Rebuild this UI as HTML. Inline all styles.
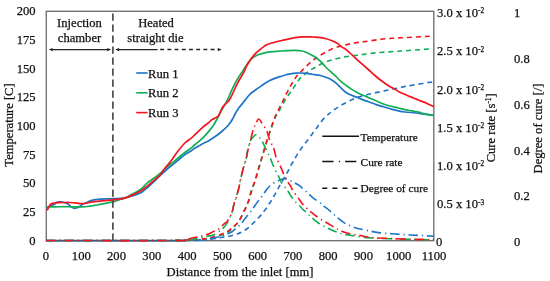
<!DOCTYPE html>
<html><head><meta charset="utf-8"><style>
html,body{margin:0;padding:0;background:#fff;}
svg{display:block;}
.t{font-family:"Liberation Serif","Times New Roman",serif;font-size:12.6px;fill:#111;stroke:#111;stroke-width:0.25px;}
</style></head><body>
<svg width="550" height="281" viewBox="0 0 550 281">
<rect width="550" height="281" fill="#fff"/>
<rect x="46.3" y="11.3" width="387.5" height="229.4" fill="none" stroke="#737373" stroke-width="1.4"/>
<line x1="46" y1="240.6" x2="186" y2="240.6" stroke="#2a5d8c" stroke-width="1.6"/>
<path d="M175.0,240.5 C179.2,240.4 193.8,240.3 200.0,240.1 C206.2,239.8 208.3,239.5 212.0,239.0 C215.7,238.5 219.1,237.8 222.0,237.3 C224.9,236.8 227.4,236.5 229.3,236.2 C231.2,235.8 232.1,235.6 233.5,235.2 C234.9,234.8 236.5,234.2 237.8,233.7 C239.1,233.2 240.2,232.7 241.5,232.1 C242.8,231.5 244.1,230.8 245.3,230.0 C246.6,229.2 247.8,228.3 249.0,227.3 C250.2,226.3 251.2,225.1 252.2,224.1 C253.2,223.1 254.0,222.5 255.0,221.5 C256.0,220.5 257.1,219.2 258.1,218.1 C259.2,217.0 260.4,215.9 261.3,214.9 C262.2,213.9 262.6,213.1 263.5,211.9 C264.4,210.8 265.8,209.2 266.7,208.0 C267.6,206.8 268.0,205.8 268.8,204.5 C269.6,203.2 270.8,201.7 271.5,200.5 C272.2,199.3 272.4,198.7 273.1,197.5 C273.8,196.3 274.8,194.7 275.7,193.1 C276.6,191.5 277.4,189.8 278.5,187.8 C279.6,185.8 281.1,183.2 282.4,181.0 C283.6,178.8 284.9,176.4 286.0,174.6 C287.1,172.8 287.9,171.4 288.7,170.0 C289.4,168.6 289.7,167.4 290.5,166.0 C291.3,164.6 292.2,163.3 293.3,161.4 C294.4,159.5 295.8,156.7 297.3,154.3 C298.8,151.9 300.6,149.4 302.2,147.2 C303.8,144.9 305.5,143.0 307.2,140.8 C308.9,138.6 310.6,136.0 312.2,133.9 C313.8,131.8 315.1,130.1 316.5,128.2 C317.9,126.3 319.0,124.4 320.5,122.5 C322.0,120.6 324.2,118.1 325.6,116.6 C327.1,115.1 328.1,114.5 329.2,113.6 C330.3,112.7 330.7,112.4 332.0,111.4 C333.3,110.4 335.2,109.0 337.0,107.8 C338.8,106.6 340.8,105.5 343.0,104.3 C345.2,103.1 347.8,101.7 350.0,100.6 C352.2,99.5 354.3,98.7 356.3,97.9 C358.3,97.1 359.2,96.8 362.0,96.0 C364.8,95.2 369.1,94.1 372.8,93.3 C376.5,92.5 380.4,91.7 384.2,90.9 C388.0,90.1 392.1,89.2 395.6,88.5 C399.1,87.8 401.6,87.1 405.0,86.4 C408.4,85.8 412.0,85.3 416.0,84.6 C420.0,83.9 425.8,82.9 428.8,82.4 C431.8,81.9 433.1,81.9 434.0,81.8" fill="none" stroke="#1f74c8" stroke-width="1.6" stroke-linejoin="round" stroke-dasharray="5,3.9"/>
<path d="M175.0,240.5 C177.5,240.5 185.8,240.5 190.0,240.3 C194.2,240.2 197.2,239.8 200.0,239.6 C202.8,239.3 204.7,239.2 207.0,238.8 C209.3,238.5 211.3,238.2 214.0,237.5 C216.7,236.8 220.6,235.5 223.0,234.6 C225.4,233.7 226.8,232.9 228.2,232.0 C229.6,231.1 230.3,230.2 231.4,229.2 C232.5,228.2 233.5,227.3 234.6,226.2 C235.7,225.1 236.8,224.1 237.8,222.8 C238.8,221.5 239.6,220.0 240.5,218.3 C241.4,216.6 242.4,214.5 243.3,212.5 C244.2,210.5 245.3,208.4 246.2,206.4 C247.1,204.4 247.7,203.1 248.5,200.5 C249.3,197.9 250.2,193.9 251.2,190.8 C252.2,187.7 253.5,184.8 254.5,181.7 C255.5,178.6 256.3,175.7 257.3,172.5 C258.3,169.3 259.3,165.9 260.3,162.5 C261.3,159.1 262.4,155.9 263.5,152.3 C264.6,148.7 265.7,144.9 266.9,141.1 C268.1,137.3 269.6,133.3 270.9,129.5 C272.2,125.7 273.6,121.3 274.8,118.5 C276.0,115.7 276.9,114.8 278.2,112.5 C279.5,110.2 280.9,107.2 282.5,104.5 C284.1,101.8 285.8,99.1 287.5,96.5 C289.2,93.9 291.2,91.1 292.8,88.8 C294.4,86.5 295.7,84.4 297.1,82.4 C298.5,80.5 299.7,78.7 301.3,77.1 C302.9,75.5 304.9,74.1 306.7,72.8 C308.5,71.5 310.3,70.2 312.0,69.1 C313.7,68.0 315.4,67.3 317.1,66.3 C318.9,65.3 320.7,64.1 322.5,63.3 C324.3,62.4 326.0,61.8 327.8,61.2 C329.6,60.6 331.3,60.1 333.1,59.6 C334.9,59.1 336.4,58.8 338.5,58.3 C340.6,57.8 342.9,57.1 346.0,56.6 C349.1,56.1 353.4,55.8 357.0,55.3 C360.6,54.8 363.9,54.3 367.7,53.8 C371.5,53.3 374.4,53.0 380.0,52.5 C385.6,52.0 394.3,51.5 401.4,51.0 C408.5,50.5 417.3,49.9 422.7,49.5 C428.1,49.1 432.1,48.8 434.0,48.7" fill="none" stroke="#10ae55" stroke-width="1.6" stroke-linejoin="round" stroke-dasharray="5,3.9"/>
<path d="M175.0,240.5 C177.5,240.4 185.8,240.4 190.0,240.2 C194.2,240.0 197.2,239.6 200.0,239.3 C202.8,239.0 204.7,238.7 207.0,238.3 C209.3,237.9 211.3,237.6 214.0,236.8 C216.7,236.0 220.6,234.6 223.0,233.6 C225.4,232.6 226.8,232.0 228.2,231.1 C229.6,230.2 230.3,229.3 231.4,228.4 C232.5,227.5 233.5,226.7 234.6,225.7 C235.7,224.7 236.8,223.7 237.8,222.5 C238.8,221.3 239.6,220.0 240.5,218.3 C241.4,216.6 242.5,214.5 243.5,212.5 C244.5,210.5 245.6,208.4 246.5,206.4 C247.4,204.4 248.0,203.1 248.9,200.5 C249.8,197.9 250.7,193.9 251.7,190.8 C252.7,187.7 253.9,184.8 254.9,181.7 C255.9,178.6 256.7,175.7 257.6,172.5 C258.5,169.3 259.5,165.9 260.5,162.5 C261.5,159.1 262.5,155.9 263.5,152.3 C264.5,148.7 265.5,144.9 266.7,141.1 C267.9,137.3 269.2,133.3 270.5,129.5 C271.8,125.7 273.1,121.5 274.3,118.5 C275.5,115.5 276.3,113.9 277.5,111.5 C278.7,109.1 280.1,106.9 281.4,104.2 C282.7,101.5 284.1,98.2 285.5,95.5 C286.9,92.8 288.2,90.2 289.6,87.7 C291.0,85.2 292.6,82.4 293.9,80.3 C295.2,78.2 296.3,76.5 297.6,74.9 C298.9,73.3 300.4,72.2 301.9,70.7 C303.4,69.2 305.0,67.5 306.7,65.9 C308.4,64.3 310.4,62.4 312.0,61.1 C313.6,59.8 314.6,59.2 316.0,58.2 C317.4,57.2 319.0,56.2 320.7,55.1 C322.4,54.0 324.2,52.9 326.0,51.9 C327.8,50.9 329.5,50.0 331.3,49.2 C333.1,48.4 334.9,47.9 336.7,47.3 C338.5,46.7 340.3,46.0 342.0,45.6 C343.7,45.2 345.4,44.9 347.0,44.6 C348.6,44.3 349.7,43.9 351.4,43.6 C353.1,43.3 355.2,42.9 357.0,42.6 C358.8,42.3 359.8,42.3 362.0,42.0 C364.2,41.7 367.0,41.2 370.0,40.8 C373.0,40.4 377.0,39.8 380.0,39.4 C383.0,39.0 385.2,38.8 388.0,38.6 C390.8,38.4 394.2,38.2 397.0,38.0 C399.8,37.8 400.7,37.8 405.0,37.6 C409.3,37.4 417.9,37.0 422.7,36.7 C427.5,36.4 432.1,36.1 434.0,36.0" fill="none" stroke="#f5141e" stroke-width="1.6" stroke-linejoin="round" stroke-dasharray="5,3.9"/>
<path d="M46.0,240.5 C69.2,240.5 159.3,240.6 185.0,240.5 C210.7,240.4 195.5,240.0 200.0,239.7 C204.5,239.3 208.3,239.0 212.0,238.4 C215.7,237.8 219.3,236.8 222.0,236.0 C224.7,235.2 226.4,234.4 228.2,233.6 C229.9,232.8 230.7,232.7 232.5,231.4 C234.3,230.1 237.3,227.3 238.9,225.8 C240.5,224.3 241.0,223.8 242.1,222.5 C243.2,221.2 244.2,219.7 245.3,218.3 C246.4,216.9 247.5,215.4 248.5,214.2 C249.5,213.0 250.4,212.1 251.2,211.0 C252.0,209.9 252.4,209.2 253.3,207.9 C254.2,206.6 255.5,204.8 256.5,203.4 C257.5,202.0 258.6,200.7 259.5,199.5 C260.4,198.3 261.1,197.5 261.9,196.3 C262.7,195.2 263.6,193.9 264.5,192.6 C265.4,191.3 266.3,189.9 267.3,188.7 C268.3,187.5 269.3,186.5 270.5,185.5 C271.7,184.5 273.1,183.3 274.5,182.5 C275.9,181.7 277.8,180.9 279.0,180.4 C280.2,179.9 281.1,179.6 282.0,179.3 C282.9,179.0 283.7,178.7 284.7,178.7 C285.7,178.7 286.8,178.9 287.8,179.3 C288.9,179.7 289.7,180.3 291.0,181.0 C292.3,181.7 294.3,182.7 295.7,183.5 C297.1,184.3 298.3,184.7 299.5,185.6 C300.7,186.5 301.8,187.8 303.0,188.9 C304.2,190.0 305.7,191.0 306.9,192.0 C308.1,193.0 309.0,194.1 310.1,195.1 C311.2,196.1 311.4,196.7 313.3,198.1 C315.2,199.5 319.4,202.3 321.3,203.7 C323.2,205.1 323.3,205.7 324.5,206.7 C325.7,207.7 326.9,208.3 328.3,209.5 C329.7,210.7 331.3,212.1 333.0,213.6 C334.7,215.1 336.2,216.6 338.3,218.3 C340.4,220.0 343.0,222.2 345.8,223.8 C348.6,225.4 351.9,226.6 355.3,227.7 C358.7,228.8 362.1,229.4 366.0,230.2 C369.9,231.0 374.2,232.0 378.5,232.6 C382.8,233.2 387.5,233.5 392.0,233.8 C396.5,234.2 401.0,234.4 405.5,234.7 C410.0,235.0 414.2,235.2 419.0,235.4 C423.8,235.7 431.5,236.1 434.0,236.2" fill="none" stroke="#1f74c8" stroke-width="1.6" stroke-linejoin="round" stroke-dasharray="9.5,4,1.3,3.7"/>
<path d="M46.0,240.5 C67.5,240.5 151.8,240.6 175.0,240.5 C198.2,240.4 182.3,240.2 185.0,240.0 C187.7,239.8 188.8,239.6 191.0,239.3 C193.2,239.1 195.8,238.9 198.0,238.5 C200.2,238.1 202.5,237.3 204.4,236.9 C206.3,236.5 207.6,236.2 209.2,235.9 C210.8,235.6 212.1,235.8 214.0,234.8 C215.9,233.8 219.1,231.4 220.9,230.0 C222.7,228.6 223.5,227.8 224.6,226.5 C225.7,225.2 226.4,223.9 227.3,222.5 C228.2,221.1 229.0,219.5 229.8,217.8 C230.6,216.1 231.3,214.8 232.0,212.5 C232.7,210.2 233.3,206.6 234.0,204.0 C234.7,201.4 235.6,199.4 236.3,197.0 C237.0,194.6 237.7,192.2 238.4,189.5 C239.1,186.8 239.5,183.9 240.3,180.5 C241.1,177.1 242.0,172.7 243.0,169.0 C244.0,165.3 245.4,161.5 246.2,158.5 C246.9,155.5 246.8,153.9 247.5,151.0 C248.2,148.1 249.3,143.3 250.3,141.0 C251.3,138.7 252.4,138.0 253.3,137.0 C254.2,136.0 254.8,135.0 255.6,134.8 C256.4,134.6 257.2,135.0 258.0,135.6 C258.8,136.2 259.6,137.5 260.3,138.5 C261.0,139.5 261.7,140.4 262.4,141.7 C263.1,143.0 263.8,144.7 264.5,146.2 C265.2,147.7 266.0,149.2 266.7,150.6 C267.4,152.0 267.9,153.1 268.6,154.5 C269.3,155.9 270.1,157.6 270.7,159.1 C271.3,160.6 271.7,161.8 272.3,163.3 C272.9,164.8 273.4,166.0 274.4,168.1 C275.4,170.2 277.4,173.9 278.5,176.1 C279.6,178.3 279.9,179.7 280.7,181.1 C281.5,182.5 281.8,182.8 283.1,184.6 C284.4,186.4 287.0,189.8 288.3,191.7 C289.6,193.6 289.9,194.6 290.9,196.0 C291.9,197.4 292.6,198.6 294.1,200.3 C295.6,202.0 298.4,204.7 300.0,206.3 C301.6,207.9 302.2,208.7 303.7,210.1 C305.2,211.5 306.8,212.9 309.1,215.0 C311.4,217.1 314.4,220.2 317.7,222.5 C321.0,224.8 325.5,227.0 328.9,228.7 C332.3,230.4 335.2,231.5 338.3,232.5 C341.4,233.5 343.0,234.1 347.7,234.9 C352.4,235.8 359.6,236.9 366.6,237.6 C373.7,238.2 378.8,238.4 390.0,238.8 C401.2,239.2 426.7,239.7 434.0,239.9" fill="none" stroke="#10ae55" stroke-width="1.6" stroke-linejoin="round" stroke-dasharray="9.5,4,1.3,3.7"/>
<path d="M46.0,240.5 C67.5,240.5 151.8,240.7 175.0,240.5 C198.2,240.3 182.3,240.0 185.0,239.6 C187.7,239.2 188.8,238.8 191.0,238.3 C193.2,237.9 195.8,237.4 198.0,236.9 C200.2,236.4 202.5,235.8 204.4,235.3 C206.3,234.8 207.7,234.3 209.2,233.7 C210.7,233.1 212.1,232.2 213.5,231.6 C214.9,230.9 216.3,230.5 217.5,229.8 C218.7,229.1 219.8,228.3 220.9,227.3 C222.0,226.3 223.1,224.7 224.1,223.8 C225.1,222.9 225.9,223.0 226.8,221.9 C227.7,220.8 228.6,219.0 229.5,217.4 C230.4,215.8 231.4,214.5 232.2,212.2 C233.0,209.9 233.4,206.0 234.1,203.5 C234.8,201.0 235.8,199.4 236.5,197.0 C237.2,194.6 237.9,191.8 238.6,189.0 C239.3,186.2 239.7,183.4 240.5,180.0 C241.3,176.6 242.2,172.5 243.2,168.8 C244.2,165.2 245.6,161.1 246.4,158.1 C247.2,155.1 247.1,153.6 247.8,150.6 C248.5,147.6 249.9,143.3 250.7,140.0 C251.5,136.7 252.1,133.5 252.8,131.0 C253.6,128.5 254.2,127.0 255.2,125.0 C256.2,123.0 257.4,119.1 258.7,119.0 C260.0,118.9 261.5,122.7 262.8,124.6 C264.1,126.5 265.6,128.5 266.5,130.3 C267.4,132.1 267.7,133.8 268.1,135.2 C268.6,136.6 268.7,137.6 269.2,138.9 C269.7,140.2 270.6,141.8 271.3,143.3 C272.0,144.8 272.9,146.4 273.5,147.9 C274.1,149.4 274.5,151.0 274.9,152.5 C275.3,154.0 275.1,154.7 276.0,156.9 C276.9,159.2 279.3,163.9 280.3,166.0 C281.3,168.1 281.3,168.3 281.9,169.7 C282.5,171.1 282.7,172.1 283.8,174.3 C284.9,176.5 287.1,180.6 288.3,182.7 C289.5,184.8 290.1,185.2 290.9,186.6 C291.7,188.0 291.9,189.3 293.1,191.2 C294.4,193.1 297.1,196.3 298.4,198.1 C299.7,199.9 300.1,200.8 301.1,202.1 C302.1,203.4 302.6,204.1 304.3,205.8 C306.0,207.5 308.7,210.1 311.2,212.2 C313.7,214.3 316.4,216.5 319.4,218.5 C322.3,220.5 325.8,222.2 328.9,224.0 C332.0,225.8 335.2,228.1 338.3,229.6 C341.4,231.1 344.2,232.2 347.7,233.2 C351.1,234.1 355.3,234.6 359.0,235.3 C362.7,236.0 365.7,236.9 370.0,237.4 C374.3,237.9 379.2,238.0 385.0,238.3 C390.8,238.6 396.8,238.8 405.0,239.1 C413.2,239.3 429.2,239.7 434.0,239.8" fill="none" stroke="#f5141e" stroke-width="1.6" stroke-linejoin="round" stroke-dasharray="9.5,4,1.3,3.7"/>
<path d="M46.3,207.6 C46.7,207.5 47.7,207.5 48.5,207.2 C49.3,206.9 50.3,206.2 51.3,205.7 C52.2,205.2 53.2,204.9 54.2,204.3 C55.2,203.7 56.5,202.4 57.5,202.0 C58.5,201.6 59.4,201.7 60.5,201.8 C61.6,201.9 63.1,202.2 64.2,202.5 C65.3,202.8 66.3,203.0 67.3,203.6 C68.3,204.2 69.1,205.1 70.2,205.9 C71.3,206.7 72.8,207.9 73.8,208.2 C74.8,208.5 75.5,208.2 76.5,207.9 C77.5,207.6 78.6,207.0 79.6,206.4 C80.6,205.8 81.3,204.9 82.5,204.3 C83.7,203.7 85.1,203.2 86.5,202.6 C87.9,202.0 89.0,201.1 90.9,200.6 C92.9,200.1 95.8,199.7 98.2,199.4 C100.6,199.1 103.1,199.0 105.5,198.9 C107.9,198.8 110.2,198.8 112.7,198.7 C115.2,198.6 118.5,198.6 120.7,198.4 C122.9,198.2 124.2,198.0 126.0,197.6 C127.8,197.2 129.4,196.8 131.3,196.2 C133.2,195.6 135.9,195.0 137.7,194.3 C139.5,193.6 140.4,193.1 142.0,192.0 C143.6,190.9 145.1,189.7 147.1,187.9 C149.1,186.1 151.8,183.7 154.2,181.4 C156.6,179.2 158.9,176.6 161.3,174.4 C163.7,172.2 166.1,169.9 168.4,168.0 C170.7,166.1 172.4,165.0 175.0,162.8 C177.6,160.7 181.5,157.1 184.2,155.1 C186.9,153.1 189.5,152.0 191.3,150.8 C193.1,149.6 193.2,149.1 195.0,148.0 C196.8,146.9 199.7,145.4 202.1,144.1 C204.5,142.8 206.8,141.8 209.2,140.4 C211.6,139.0 213.9,137.5 216.3,135.8 C218.7,134.1 221.4,131.8 223.4,130.0 C225.4,128.2 227.0,126.8 228.5,125.0 C230.0,123.2 231.1,121.5 232.3,119.5 C233.5,117.5 234.4,115.2 235.5,113.3 C236.6,111.4 237.6,109.4 238.7,107.9 C239.8,106.4 240.9,105.5 242.0,104.1 C243.1,102.7 244.1,101.3 245.5,99.6 C246.9,97.9 248.6,95.5 250.3,93.9 C252.0,92.3 253.9,91.1 255.7,89.8 C257.5,88.5 259.2,87.3 261.0,86.1 C262.8,84.9 264.5,83.5 266.3,82.4 C268.1,81.3 269.9,80.4 271.7,79.6 C273.5,78.8 275.6,78.1 277.0,77.6 C278.4,77.1 278.6,77.0 280.0,76.6 C281.4,76.2 283.5,75.5 285.3,75.0 C287.1,74.5 288.9,74.2 290.7,73.9 C292.5,73.6 294.2,73.4 296.0,73.2 C297.8,73.0 299.5,73.0 301.3,73.0 C303.1,73.0 304.9,73.2 306.7,73.4 C308.5,73.6 310.6,74.1 312.0,74.3 C313.4,74.5 313.6,74.5 315.0,74.7 C316.4,74.9 318.5,75.1 320.3,75.5 C322.1,75.9 323.9,76.5 325.7,77.2 C327.5,77.9 329.4,78.6 331.0,79.4 C332.6,80.2 333.8,81.3 335.0,82.3 C336.2,83.2 337.1,84.1 338.2,85.1 C339.3,86.1 340.3,87.3 341.4,88.3 C342.5,89.3 343.5,90.4 344.6,91.3 C345.7,92.2 346.4,92.8 347.8,93.6 C349.2,94.4 351.3,95.2 353.1,95.9 C354.9,96.6 356.7,97.2 358.5,97.9 C360.3,98.6 361.9,99.4 363.8,100.1 C365.7,100.8 367.8,101.4 370.0,102.2 C372.2,103.0 374.7,104.1 377.1,104.9 C379.5,105.7 381.8,106.3 384.2,107.0 C386.6,107.7 388.9,108.5 391.3,109.1 C393.7,109.7 396.1,110.3 398.4,110.8 C400.7,111.3 402.1,111.6 405.0,112.0 C407.9,112.4 412.8,112.6 416.0,113.0 C419.2,113.4 421.0,113.8 424.0,114.2 C427.0,114.6 432.3,115.0 434.0,115.2" fill="none" stroke="#1f74c8" stroke-width="1.7" stroke-linejoin="round"/>
<path d="M46.3,206.9 C47.8,206.9 52.0,206.8 55.0,206.8 C58.0,206.8 61.2,206.7 64.0,206.7 C66.8,206.7 69.3,206.8 72.0,206.8 C74.7,206.8 77.5,207.0 80.0,206.9 C82.5,206.8 84.9,206.8 87.3,206.5 C89.7,206.2 92.1,205.8 94.5,205.4 C96.9,205.0 99.2,204.7 101.8,204.2 C104.4,203.7 107.8,202.9 110.0,202.4 C112.2,201.9 113.2,201.7 115.0,201.2 C116.8,200.7 118.9,199.9 120.7,199.3 C122.5,198.7 124.2,198.5 126.0,197.7 C127.8,196.9 129.4,195.7 131.3,194.6 C133.2,193.5 135.9,192.4 137.7,191.3 C139.5,190.2 140.4,189.5 142.0,188.2 C143.6,186.8 145.1,184.9 147.1,183.2 C149.1,181.5 151.8,179.8 154.2,178.0 C156.6,176.2 158.9,174.3 161.3,172.3 C163.7,170.3 166.1,167.9 168.4,165.9 C170.7,163.9 172.4,162.8 175.0,160.6 C177.6,158.4 181.5,155.1 184.2,153.0 C186.9,150.9 189.5,149.3 191.3,147.9 C193.1,146.5 193.2,146.0 195.0,144.5 C196.8,143.0 199.7,141.0 202.1,138.7 C204.5,136.4 207.3,133.2 209.2,130.9 C211.1,128.6 212.2,127.1 213.6,125.0 C214.9,122.9 216.2,120.7 217.3,118.5 C218.5,116.3 219.4,114.1 220.5,112.1 C221.6,110.1 222.8,108.2 223.7,106.7 C224.6,105.2 225.2,104.3 225.9,103.0 C226.6,101.7 227.4,100.0 228.0,98.7 C228.6,97.4 228.8,96.8 229.6,95.0 C230.4,93.2 231.6,90.3 232.7,88.1 C233.8,85.9 234.8,83.7 235.9,81.7 C237.0,79.8 238.0,78.1 239.1,76.4 C240.2,74.7 241.2,73.3 242.3,71.6 C243.5,69.9 244.7,67.9 246.0,66.0 C247.3,64.1 248.9,61.7 250.3,60.1 C251.7,58.5 253.1,57.5 254.5,56.6 C255.9,55.7 256.9,55.2 258.8,54.5 C260.7,53.8 263.7,53.1 265.7,52.6 C267.7,52.1 269.2,52.0 271.0,51.8 C272.8,51.6 273.6,51.6 276.3,51.4 C279.0,51.2 283.9,50.9 287.0,50.7 C290.1,50.5 292.5,50.4 295.0,50.4 C297.5,50.4 300.2,50.7 302.0,51.0 C303.8,51.3 304.7,51.8 306.0,52.3 C307.3,52.8 308.5,53.4 310.0,54.2 C311.5,55.0 313.3,55.8 315.0,57.0 C316.7,58.2 318.5,59.5 320.3,61.2 C322.1,62.9 323.9,65.2 325.7,67.0 C327.5,68.8 329.2,70.3 331.0,71.9 C332.8,73.5 334.8,75.2 336.3,76.7 C337.9,78.2 338.7,79.5 340.3,80.9 C341.9,82.3 343.9,83.8 345.7,85.1 C347.5,86.4 349.2,87.7 351.0,88.9 C352.8,90.1 354.5,91.1 356.3,92.1 C358.1,93.1 359.9,93.9 361.7,94.7 C363.5,95.5 365.6,96.3 367.0,96.9 C368.4,97.5 368.3,97.5 370.0,98.2 C371.7,98.9 374.7,100.3 377.1,101.3 C379.5,102.3 381.8,103.4 384.2,104.2 C386.6,105.0 388.9,105.7 391.3,106.3 C393.7,106.9 395.9,107.4 398.4,108.0 C400.8,108.6 403.7,109.4 406.0,109.9 C408.3,110.4 410.1,110.5 412.2,110.9 C414.3,111.3 416.4,111.6 418.5,112.1 C420.6,112.6 422.6,113.4 424.7,113.9 C426.8,114.4 429.3,114.8 430.9,115.1 C432.4,115.4 433.5,115.5 434.0,115.6" fill="none" stroke="#10ae55" stroke-width="1.7" stroke-linejoin="round"/>
<path d="M46.3,209.6 C46.5,209.6 47.1,210.0 47.5,209.6 C47.9,209.2 48.4,207.8 48.8,207.0 C49.2,206.2 49.6,205.3 50.1,204.7 C50.6,204.1 51.1,203.9 52.0,203.6 C52.9,203.3 54.5,203.2 55.5,203.0 C56.5,202.8 56.6,202.7 58.0,202.6 C59.4,202.5 62.1,202.5 64.0,202.5 C65.9,202.5 67.4,202.4 69.5,202.5 C71.6,202.6 75.0,202.9 76.7,203.1 C78.5,203.3 78.8,203.4 80.0,203.5 C81.2,203.6 82.8,203.6 84.0,203.5 C85.2,203.4 85.5,203.3 87.3,203.0 C89.0,202.7 92.1,202.0 94.5,201.6 C96.9,201.2 99.2,201.0 101.8,200.8 C104.4,200.6 107.8,200.4 110.0,200.2 C112.2,200.0 113.2,199.8 115.0,199.6 C116.8,199.4 118.9,199.3 120.7,199.0 C122.5,198.7 124.2,198.2 126.0,197.6 C127.8,197.0 129.4,196.4 131.3,195.6 C133.2,194.8 135.9,193.5 137.7,192.6 C139.5,191.7 140.4,191.0 142.0,190.0 C143.6,189.0 145.7,187.4 147.0,186.4 C148.3,185.4 148.8,184.8 150.0,183.8 C151.2,182.8 152.5,181.6 154.2,180.2 C155.8,178.8 158.0,177.3 159.9,175.2 C161.8,173.1 163.7,169.8 165.6,167.4 C167.5,165.0 169.4,163.1 171.3,160.6 C173.2,158.1 174.8,155.1 177.1,152.2 C179.4,149.3 182.5,145.3 184.9,143.0 C187.3,140.7 189.6,139.6 191.3,138.2 C193.0,136.8 193.2,136.3 195.0,134.6 C196.8,132.9 199.7,130.0 202.1,127.9 C204.5,125.8 207.5,123.6 209.2,122.2 C210.8,120.8 210.8,120.4 212.0,119.6 C213.2,118.8 215.2,118.1 216.3,117.4 C217.5,116.7 218.0,116.6 218.9,115.2 C219.8,113.8 220.8,110.8 221.6,109.2 C222.4,107.6 222.9,106.8 223.7,105.8 C224.5,104.8 225.6,103.8 226.4,103.0 C227.2,102.2 227.8,102.1 228.5,101.2 C229.2,100.3 229.8,99.4 230.7,97.7 C231.6,96.0 232.7,93.5 233.7,91.3 C234.7,89.1 235.8,86.5 236.9,84.4 C238.0,82.3 239.0,80.4 240.1,78.5 C241.2,76.6 242.1,75.5 243.3,73.2 C244.5,71.0 245.8,67.5 247.1,65.0 C248.4,62.5 249.9,60.4 251.3,58.5 C252.7,56.6 254.3,54.7 255.6,53.4 C256.9,52.1 257.1,52.0 258.8,50.6 C260.5,49.2 263.7,46.4 265.7,45.2 C267.7,44.0 269.2,43.9 271.0,43.3 C272.8,42.7 274.5,42.3 276.3,41.8 C278.1,41.3 279.9,40.9 281.7,40.5 C283.5,40.1 284.8,39.8 287.0,39.3 C289.2,38.8 292.5,38.1 295.0,37.7 C297.5,37.3 299.5,37.0 302.0,36.9 C304.5,36.8 307.8,36.8 310.0,36.8 C312.2,36.8 313.5,37.0 315.3,37.1 C317.1,37.2 318.9,37.4 320.7,37.7 C322.5,38.0 324.2,38.3 326.0,38.8 C327.8,39.3 329.5,39.8 331.3,40.5 C333.1,41.2 334.9,41.9 336.7,43.0 C338.5,44.1 340.3,45.9 342.0,47.1 C343.7,48.3 344.5,48.2 347.0,50.3 C349.5,52.4 353.6,56.5 357.0,59.6 C360.4,62.7 364.8,66.4 367.7,69.0 C370.6,71.6 372.0,73.0 374.3,75.0 C376.6,77.0 379.0,78.9 381.4,80.7 C383.8,82.5 386.4,84.4 388.5,85.7 C390.6,87.0 392.2,87.7 394.0,88.7 C395.8,89.7 397.5,91.0 399.3,91.9 C401.1,92.8 402.9,93.5 404.7,94.3 C406.5,95.1 408.2,95.8 410.0,96.6 C411.8,97.3 413.6,98.1 415.3,98.8 C417.0,99.5 418.4,100.0 420.0,100.6 C421.6,101.2 422.9,101.6 424.7,102.4 C426.5,103.2 429.3,104.5 430.9,105.2 C432.4,105.9 433.5,106.4 434.0,106.6" fill="none" stroke="#f5141e" stroke-width="1.7" stroke-linejoin="round"/>
<line x1="136.2" y1="73.0" x2="147.6" y2="73.0" stroke="#1f74c8" stroke-width="1.6"/>
<line x1="136.2" y1="92.8" x2="147.6" y2="92.8" stroke="#10ae55" stroke-width="1.6"/>
<line x1="136.2" y1="112.6" x2="147.6" y2="112.6" stroke="#f5141e" stroke-width="1.6"/>
<line x1="322.3" y1="136.3" x2="359" y2="136.3" stroke="#111" stroke-width="1.5"/>
<line x1="322.3" y1="161.6" x2="359" y2="161.6" stroke="#111" stroke-width="1.5" stroke-dasharray="11.2,5.4,1.2,5"/>
<line x1="322.3" y1="188.3" x2="359" y2="188.3" stroke="#111" stroke-width="1.5" stroke-dasharray="5,5.1"/>
<line x1="112.9" y1="13.4" x2="112.9" y2="240.6" stroke="#404040" stroke-width="1.6" stroke-dasharray="7.4,3.6"/>
<line x1="51" y1="49.6" x2="109" y2="49.6" stroke="#222" stroke-width="1.1"/>
<path d="M48.8,49.6 L52.6,47.9 L52.6,51.3 Z" fill="#222"/>
<path d="M111,49.6 L107.2,47.9 L107.2,51.3 Z" fill="#222"/>
<line x1="117" y1="49.6" x2="157.6" y2="49.6" stroke="#222" stroke-width="1.1"/>
<path d="M115.3,49.6 L119.1,47.9 L119.1,51.3 Z" fill="#222"/>
<line x1="160.2" y1="49.6" x2="218" y2="49.6" stroke="#222" stroke-width="1.5" stroke-dasharray="3.9,3.3"/>
<path d="M221.6,49.6 L217.8,47.9 L217.8,51.3 Z" fill="#222"/>
<text x="35.6" y="244.8" text-anchor="end" class="t">0</text>
<text x="35.6" y="216.1" text-anchor="end" class="t">25</text>
<text x="35.6" y="187.4" text-anchor="end" class="t">50</text>
<text x="35.6" y="158.7" text-anchor="end" class="t">75</text>
<text x="35.6" y="130.1" text-anchor="end" class="t">100</text>
<text x="35.6" y="101.4" text-anchor="end" class="t">125</text>
<text x="35.6" y="72.7" text-anchor="end" class="t">150</text>
<text x="35.6" y="44.0" text-anchor="end" class="t">175</text>
<text x="35.6" y="15.3" text-anchor="end" class="t">200</text>
<text x="46.0" y="260.4" text-anchor="middle" class="t">0</text>
<text x="81.3" y="260.4" text-anchor="middle" class="t">100</text>
<text x="116.5" y="260.4" text-anchor="middle" class="t">200</text>
<text x="151.8" y="260.4" text-anchor="middle" class="t">300</text>
<text x="187.1" y="260.4" text-anchor="middle" class="t">400</text>
<text x="222.4" y="260.4" text-anchor="middle" class="t">500</text>
<text x="257.6" y="260.4" text-anchor="middle" class="t">600</text>
<text x="292.9" y="260.4" text-anchor="middle" class="t">700</text>
<text x="328.2" y="260.4" text-anchor="middle" class="t">800</text>
<text x="363.5" y="260.4" text-anchor="middle" class="t">900</text>
<text x="398.7" y="260.4" text-anchor="middle" class="t">1000</text>
<text x="434.0" y="260.4" text-anchor="middle" class="t">1100</text>
<text x="240" y="275.6" text-anchor="middle" class="t">Distance from the inlet [mm]</text>
<text transform="translate(13.2,125) rotate(-90)" text-anchor="middle" class="t">Temperature [C]</text>
<text x="437" y="17.0" class="t">3.0 x 10<tspan dy="-3.6" font-size="7.4">-2</tspan></text>
<text x="437" y="55.2" class="t">2.5 x 10<tspan dy="-3.6" font-size="7.4">-2</tspan></text>
<text x="437" y="93.5" class="t">2.0 x 10<tspan dy="-3.6" font-size="7.4">-2</tspan></text>
<text x="437" y="131.8" class="t">1.5 x 10<tspan dy="-3.6" font-size="7.4">-2</tspan></text>
<text x="437" y="170.0" class="t">1.0 x 10<tspan dy="-3.6" font-size="7.4">-2</tspan></text>
<text x="437" y="208.2" class="t">0.5 x 10<tspan dy="-3.6" font-size="7.4">-3</tspan></text>
<text x="436" y="246.3" class="t">0</text>
<text transform="translate(494.5,127.8) rotate(-90)" text-anchor="middle" class="t">Cure rate [s<tspan dy="-3.6" font-size="7.4">-1</tspan><tspan dy="3.6">]</tspan></text>
<text x="514" y="246.1" class="t">0</text>
<text x="514" y="200.3" class="t">0.2</text>
<text x="514" y="154.6" class="t">0.4</text>
<text x="514" y="108.8" class="t">0.6</text>
<text x="514" y="63.1" class="t">0.8</text>
<text x="514" y="17.3" class="t">1</text>
<text transform="translate(541.8,128.5) rotate(-90)" text-anchor="middle" class="t">Degree of cure [/]</text>
<text x="79.5" y="27.3" text-anchor="middle" class="t">Injection</text>
<text x="79.5" y="41.6" text-anchor="middle" class="t">chamber</text>
<text x="156" y="27.3" text-anchor="middle" class="t">Heated</text>
<text x="155.5" y="41.6" text-anchor="middle" class="t">straight die</text>
<text x="148" y="77.6" class="t">Run 1</text>
<text x="148" y="97.4" class="t">Run 2</text>
<text x="148" y="117.2" class="t">Run 3</text>
<text x="360.6" y="140.6" class="t" style="font-size:11.35px">Temperature</text>
<text x="360.6" y="166.1" class="t" style="font-size:11.35px">Cure rate</text>
<text x="360.6" y="191.9" class="t" style="font-size:11.35px">Degree of cure</text>
</svg>
</body></html>
